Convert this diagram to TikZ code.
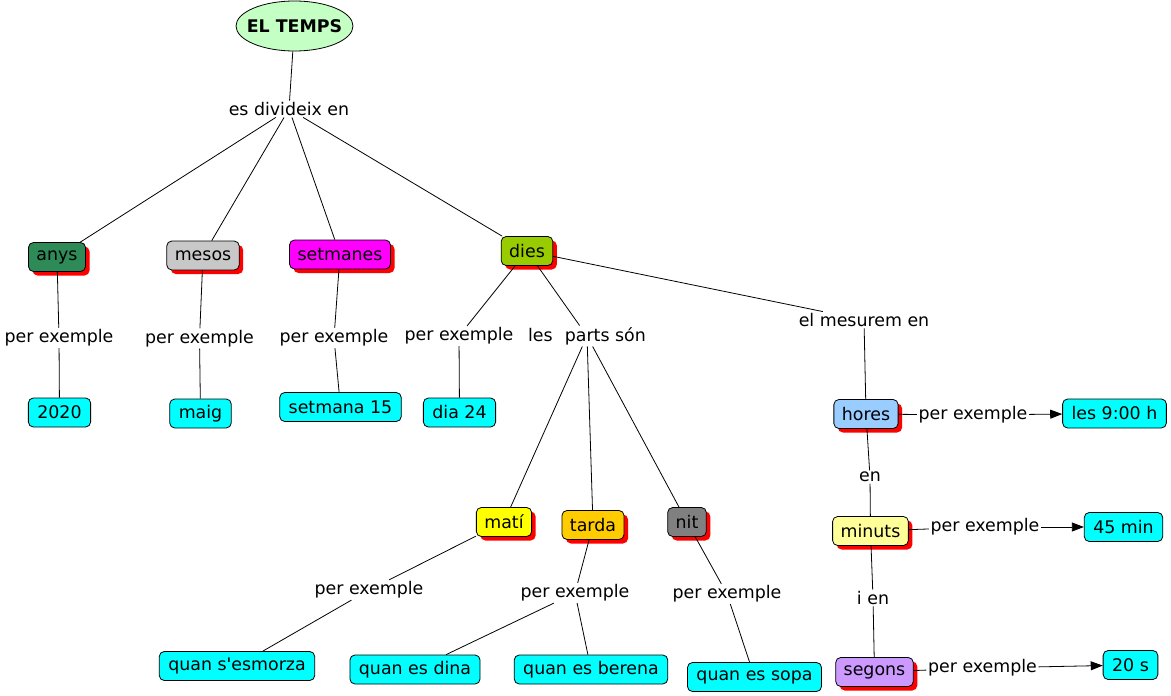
\documentclass[tikz,border=0pt]{standalone}
\usepackage{fontspec}
\setmainfont{DejaVu Sans}[Ligatures=TeXOff]
\usetikzlibrary{shapes.geometric,shadows,arrows.meta}
\definecolor{cAnys}{HTML}{2E8B57}
\definecolor{cMesos}{HTML}{C8C8C8}
\definecolor{cSetm}{HTML}{FF00FF}
\definecolor{cDies}{HTML}{99CC00}
\definecolor{cCyan}{HTML}{00FFFF}
\definecolor{cHores}{HTML}{99CCFF}
\definecolor{cMinuts}{HTML}{FFFF99}
\definecolor{cSegons}{HTML}{CC99FF}
\definecolor{cMati}{HTML}{FFFF00}
\definecolor{cTarda}{HTML}{FFCC00}
\definecolor{cNit}{HTML}{808080}
\definecolor{cTemps}{HTML}{C4FFC4}
\tikzset{
  txt/.style={font=\fontsize{17.4}{20}\selectfont},
  concept/.style={txt, draw=black, line width=0.8pt, rounded corners=5pt,
    minimum height=29pt, inner xsep=8pt, inner ysep=2pt,
    drop shadow={shadow xshift=4pt, shadow yshift=-4pt, fill=red, opacity=1}},
  example/.style={txt, draw=black, line width=0.8pt, rounded corners=5pt,
    minimum height=29pt, inner xsep=9pt, inner ysep=2pt, fill=cCyan},
  lbl/.style={txt, inner sep=1.5pt},
  link/.style={draw=black, line width=0.8pt},
  arr/.style={link, -{Triangle[length=12pt,width=9pt]}}
}
\begin{document}
\begin{tikzpicture}[x=1pt,y=-1pt]
\useasboundingbox (0,0) rectangle (1171,696);
% root
\node[ellipse, draw=black, line width=0.8pt, fill=cTemps, inner sep=0pt,
  minimum width=117pt, minimum height=50pt] (temps) at (294.5,26) {};
\node[font=\fontsize{17.4}{20}\selectfont\bfseries, inner sep=0pt] (tempstxt) at (temps.center) {EL TEMPS};
\node[lbl] (divid) at (289,109) {es divideix en};
% level 1
\node[concept, fill=cAnys] (anys) at (57,257) {anys};
\node[concept, fill=cMesos] (mesos) at (203,255.5) {mesos};
\node[concept, fill=cSetm] (setm) at (340,254.5) {setmanes};
\node[concept, fill=cDies] (dies) at (527,251) {dies};
% per exemple labels
\node[lbl] (pe1) at (59,338) {per exemple};
\node[lbl] (pe2) at (199.5,338.5) {per exemple};
\node[lbl] (pe3) at (334,338) {per exemple};
\node[lbl] (pe4) at (459,336) {per exemple};
\node[lbl] (parts) at (587,336) {les\hspace{0.7em}parts són};
\node[lbl] (mesurem) at (864,320) {el mesurem en};
% examples
\node[example] (e2020) at (59.5,412.5) {2020};
\node[example] (maig) at (200.5,413.5) {maig};
\node[example] (set15) at (340.5,407) {setmana 15};
\node[example] (dia24) at (459.5,412.5) {dia 24};
% parts of day
\node[concept, fill=cMati] (mati) at (504,522) {matí};
\node[concept, fill=cTarda] (tarda) at (593,525) {tarda};
\node[concept, fill=cNit] (nit) at (687,522) {nit};
\node[lbl] (pe5) at (369,590) {per exemple};
\node[lbl] (pe6) at (575,593) {per exemple};
\node[lbl] (pe7) at (727,594) {per exemple};
\node[example] (esmorza) at (237,666) {quan s'esmorza};
\node[example] (dina) at (415,669.5) {quan es dina};
\node[example] (berena) at (591,669.5) {quan es berena};
\node[example] (sopa) at (754.5,677) {quan es sopa};
% time units
\node[concept, fill=cHores] (hores) at (866,414) {hores};
\node[lbl] (pe8) at (973,415) {per exemple};
\node[example] (les9) at (1114.5,413.5) {les 9:00 h};
\node[lbl] (en) at (870,477) {en};
\node[concept, fill=cMinuts] (minuts) at (870.5,531) {minuts};
\node[lbl] (pe9) at (985,527) {per exemple};
\node[example] (m45) at (1123.5,527) {45 min};
\node[lbl] (ien) at (873,598) {i en};
\node[concept, fill=cSegons] (segons) at (874.5,672) {segons};
\node[lbl] (pe10) at (982.5,668) {per exemple};
\node[example] (s20) at (1130.5,665) {20 s};
% connectors
\path[link] (temps) -- (divid);
\path[link] (divid) -- (anys);
\path[link] (divid) -- (mesos);
\path[link] (divid) -- (setm);
\path[link] (divid) -- (dies);
\path[link] (anys) -- (pe1);
\path[link] (pe1) -- (e2020);
\path[link] (mesos) -- (pe2);
\path[link] (pe2) -- (maig);
\path[link] (setm) -- (pe3);
\path[link] (pe3) -- (set15);
\path[link] (dies) -- (pe4);
\path[link] (pe4) -- (dia24);
\path[link] (dies) -- (parts);
\path[link] (parts) -- (mati);
\path[link] (parts) -- (tarda);
\path[link] (parts) -- (nit);
\path[link] (dies) -- (mesurem);
\path[link] (mesurem) -- (hores);
\path[link] (mati) -- (pe5);
\path[link] (pe5) -- (esmorza);
\path[link] (tarda) -- (pe6);
\path[link] (pe6) -- (dina);
\path[link] (pe6) -- (berena);
\path[link] (nit) -- (pe7);
\path[link] (pe7) -- (sopa);
\path[link] (hores) -- (pe8);
\path[arr] (pe8) -- (les9);
\path[link] (hores) -- (en);
\path[link] (en) -- (minuts);
\path[link] (minuts) -- (pe9);
\path[arr] (pe9) -- (m45);
\path[link] (minuts) -- (ien);
\path[link] (ien) -- (segons);
\path[link] (segons) -- (pe10);
\path[arr] (pe10) -- (s20);
\end{tikzpicture}
\end{document}
